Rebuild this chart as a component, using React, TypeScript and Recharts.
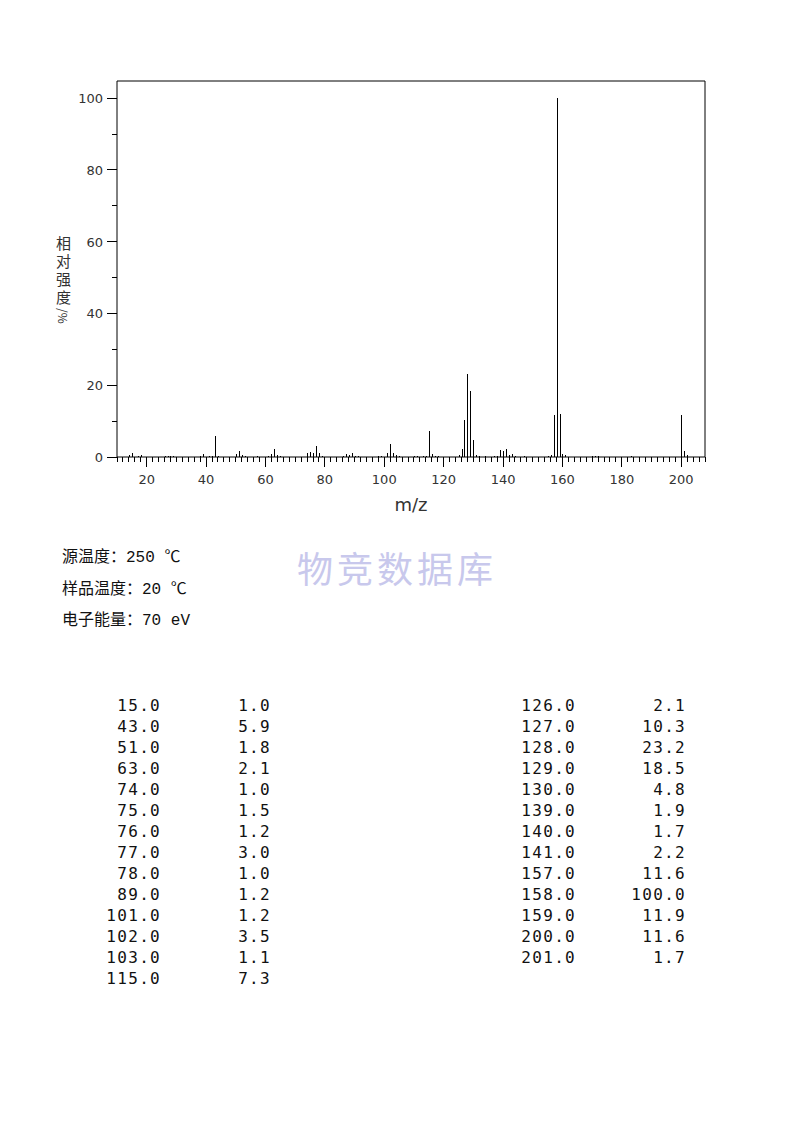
import React from 'react';
import { ComposedChart, Bar, XAxis, YAxis, ReferenceLine } from 'recharts';

// peaks listed in the table (m/z, relative intensity %)
const tableMz = [
  15, 43, 51, 63, 74, 75, 76, 77, 78, 89, 101, 102, 103, 115,
  126, 127, 128, 129, 130, 139, 140, 141, 157, 158, 159, 200, 201,
];
const tableInt = [
  1.0, 5.9, 1.8, 2.1, 1.0, 1.5, 1.2, 3.0, 1.0, 1.2, 1.2, 3.5, 1.1, 7.3,
  2.1, 10.3, 23.2, 18.5, 4.8, 1.9, 1.7, 2.2, 11.6, 100.0, 11.9, 11.6, 1.7,
];

// small peaks under 1 %
const minorMz = [
  14, 17, 18, 26, 27, 28, 29, 38, 39, 41, 42, 44, 50, 52, 53, 57, 61, 62, 64, 65,
  79, 86, 87, 88, 90, 91, 98, 99, 104, 105, 110, 111, 113, 114, 116, 117, 118,
  125, 131, 132, 134, 137, 138, 142, 143, 144, 147, 155, 156, 160, 161,
  170, 171, 172, 183, 202,
];
const minorInt = [
  0.5, 0.4, 0.5, 0.3, 0.4, 0.3, 0.3, 0.3, 0.8, 0.4, 0.4, 0.2, 0.9, 0.6, 0.3, 0.3, 0.3, 0.8, 0.6, 0.4,
  0.4, 0.4, 0.7, 0.6, 0.4, 0.3, 0.3, 0.4, 0.5, 0.3, 0.3, 0.3, 0.4, 0.4, 0.8, 0.4, 0.3,
  0.5, 0.5, 0.3, 0.3, 0.3, 0.4, 0.6, 0.7, 0.3, 0.3, 0.3, 0.5, 0.8, 0.5,
  0.3, 0.3, 0.3, 0.3, 0.5,
];

const infoLines = ['源温度：250 ℃', '样品温度：20 ℃', '电子能量：70 eV'];
const yTitle = '相对强度';
const yUnit = '/%';

const X_MIN = 10;
const X_MAX = 208;
const Y_MAX = 104.8;

const xTicks = Array.from({ length: (X_MAX - X_MIN) / 2 + 1 }, (_, i) => X_MIN + i * 2);
const yTicks = [0, 10, 20, 30, 40, 50, 60, 70, 80, 90, 100];

const peaks = [
  ...tableMz.map((mz, i) => ({ mz, value: tableInt[i] })),
  ...minorMz.map((mz, i) => ({ mz, value: minorInt[i] })),
].sort((a, b) => a.mz - b.mz);

const tickFont = "'DejaVu Sans', sans-serif";
const cjkFont = "'Noto Sans CJK SC', sans-serif";

const YTick = ({ x, y, payload }: any) => {
  const major = payload.value % 20 === 0;
  return (
    <g>
      <line x1={x - (major ? 10 : 5)} x2={x} y1={y} y2={y} stroke="#000" shapeRendering="crispEdges" />
      {major && (
        <text x={x - 14} y={y} dy={5} textAnchor="end" fontSize={13} fontFamily={tickFont} fill="#333">
          {payload.value}
        </text>
      )}
    </g>
  );
};

const XTick = ({ x, y, payload }: any) => {
  const major = payload.value % 20 === 0;
  return (
    <g>
      <line x1={x} x2={x} y1={y} y2={y + (major ? 10 : 5)} stroke="#000" shapeRendering="crispEdges" />
      {major && (
        <text x={x} y={y + 27} textAnchor="middle" fontSize={13} fontFamily={tickFont} fill="#333">
          {payload.value}
        </text>
      )}
    </g>
  );
};

const PeakLine = (p: any) => {
  if (!p.height) return null;
  return (
    <rect
      x={Math.round(p.x + p.width / 2)}
      y={p.y}
      width={1}
      height={p.height}
      fill="#000"
      shapeRendering="crispEdges"
    />
  );
};

const monoFont = "'DejaVu Sans Mono', monospace";

function PeakTable() {
  const rows = tableMz.map((mz, i) => ({ mz: mz.toFixed(1), v: tableInt[i].toFixed(1) }));
  const left = rows.slice(0, 14);
  const right = rows.slice(14);
  const cell = (txt: string, rightEdge: number, top: number, key: string) => (
    <div
      key={key}
      style={{
        position: 'absolute',
        left: rightEdge - 100,
        width: 100,
        top,
        textAlign: 'right',
        fontFamily: monoFont,
        fontSize: 16,
        letterSpacing: 1.3,
        lineHeight: '20px',
        color: '#111',
      }}
    >
      {txt}
    </div>
  );
  return (
    <>
      {left.map((r, i) => [cell(r.mz, 161, 696 + i * 21, 'lm' + i), cell(r.v, 271, 696 + i * 21, 'lv' + i)])}
      {right.map((r, i) => [cell(r.mz, 576, 696 + i * 21, 'rm' + i), cell(r.v, 686, 696 + i * 21, 'rv' + i)])}
    </>
  );
}

export default function App() {
  return (
    <div style={{ position: 'absolute', left: 0, top: 0, width: 794, height: 1134, background: '#fff' }}>
      <ComposedChart
        width={794}
        height={520}
        data={peaks}
        margin={{ top: 81, right: 89, bottom: 23, left: 57 }}
      >
        <XAxis
          dataKey="mz"
          type="number"
          domain={[X_MIN, X_MAX]}
          ticks={xTicks}
          interval={0}
          allowDataOverflow
          height={40}
          tickSize={0}
          tickMargin={0}
          tickLine={false}
          axisLine={{ stroke: '#000' }}
          tick={<XTick />}
        />
        <YAxis
          type="number"
          domain={[0, Y_MAX]}
          ticks={yTicks}
          interval={0}
          allowDataOverflow
          width={60}
          tickSize={0}
          tickMargin={0}
          tickLine={false}
          axisLine={{ stroke: '#000' }}
          tick={<YTick />}
        />
        <ReferenceLine y={Y_MAX} stroke="#000" ifOverflow="visible" />
        <ReferenceLine x={X_MAX} stroke="#000" ifOverflow="visible" />
        <Bar dataKey="value" barSize={1} shape={<PeakLine />} isAnimationActive={false} />
      </ComposedChart>

      {/* y-axis title: CJK upright, "/%" turned sideways like the original */}
      <div
        style={{
          position: 'absolute',
          left: 55,
          top: 236,
          writingMode: 'vertical-rl',
          fontFamily: cjkFont,
          fontSize: 15,
          lineHeight: '17px',
          letterSpacing: 3,
          color: '#333',
        }}
      >
        {yTitle}
        <span style={{ fontSize: 12, letterSpacing: 0 }}>{yUnit}</span>
      </div>

      <div
        style={{
          position: 'absolute',
          left: 0,
          top: 494,
          width: 822,
          textAlign: 'center',
          fontFamily: tickFont,
          fontSize: 18,
          color: '#333',
        }}
      >
        m/z
      </div>

      {infoLines.map((t, i) => (
        <div
          key={t}
          style={{
            position: 'absolute',
            left: 62,
            top: 547 + i * 31.5,
            fontFamily: "'Liberation Mono', " + cjkFont,
            fontSize: 16,
            lineHeight: '22px',
            whiteSpace: 'pre',
            color: '#111',
          }}
        >
          {t}
        </div>
      ))}

      <div
        style={{
          position: 'absolute',
          left: 297,
          top: 543,
          fontFamily: cjkFont,
          fontSize: 36,
          lineHeight: '48px',
          letterSpacing: 4,
          color: '#c8c8ec',
        }}
      >
        物竞数据库
      </div>

      <PeakTable />
    </div>
  );
}
